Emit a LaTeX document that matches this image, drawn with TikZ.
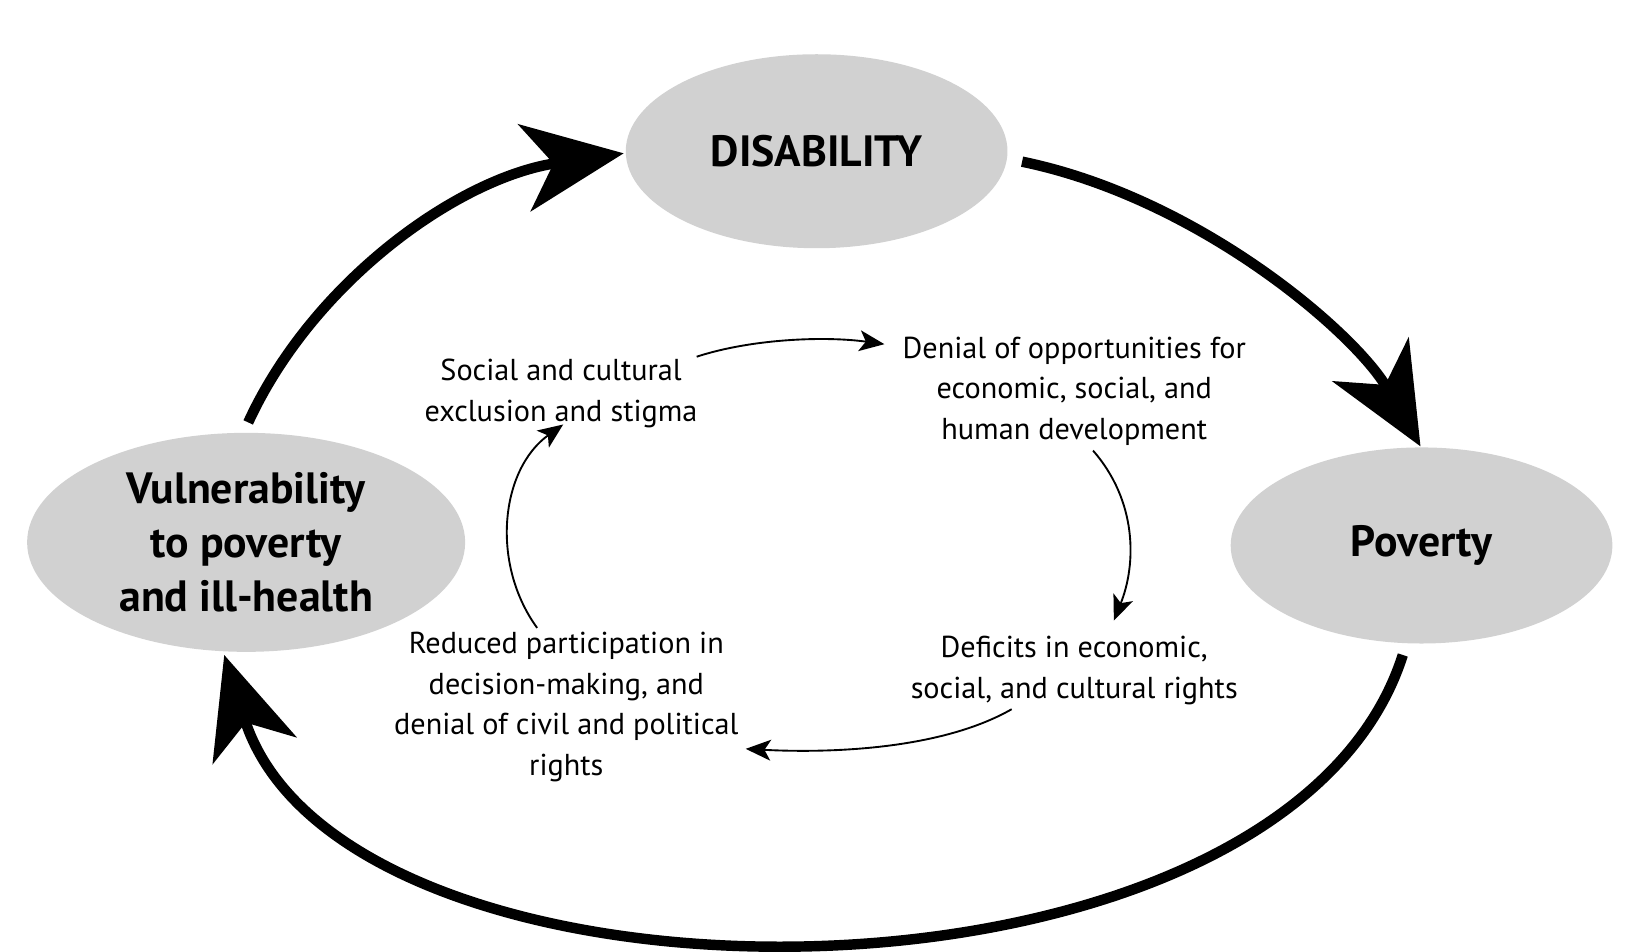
\documentclass[tikz,border=0pt]{standalone}
\usepackage{fontspec}
\setmainfont{PT Sans}
\usetikzlibrary{arrows.meta,shapes.geometric}
\begin{document}
\begin{tikzpicture}[x=0.5pt,y=-0.5pt,
  blob/.style={ellipse,fill=black!18,draw=none,inner sep=0pt,font=\fontsize{21}{26}\selectfont\bfseries,align=center},
  lbl/.style={align=center,font=\fontsize{14.5}{19.5}\selectfont},
  big/.style={line width=5pt,-{Stealth[length=48pt,width=42pt,inset=14pt]}},
  small/.style={line width=0.9pt,-{Stealth[length=12pt,width=10pt,inset=3pt]}}]
\useasboundingbox (0,0) rectangle (1560,912);
\node[blob,minimum width=183pt,minimum height=93pt] (dis) at (783,145) {DISABILITY};
\node[blob,minimum width=183pt,minimum height=94pt] (pov) at (1363,523) {Poverty};
\node[blob,minimum width=210pt,minimum height=105pt] (vul) at (236,520) {Vulnerability\\to poverty\\and ill-health};
\node[lbl] (soc) at (538,377) {Social and cultural\\exclusion and stigma};
\node[lbl] (den) at (1030,375) {Denial of opportunities for\\economic, social, and\\human development};
\node[lbl] (def) at (1030,643) {Deficits in economic,\\social, and cultural rights};
\node[lbl] (red) at (543,678) {Reduced participation in\\decision-making, and\\denial of civil and political\\rights};
\coordinate (a1) at (238,405); \coordinate (a2) at (598,147);
\coordinate (b1) at (980,155); \coordinate (b2) at (1362,428);
\coordinate (c1) at (1345,628); \coordinate (c2) at (215,628);
\draw[big] (a1) .. controls (300,270) and (440,170) .. (a2);
\draw[big] (b1) .. controls (1150,190) and (1300,320) .. (b2);
\draw[big] (c1) .. controls (1230,990) and (330,990) .. (c2);
\coordinate (s1) at (668,342); \coordinate (s2) at (848,330);
\draw[small] (s1) .. controls (720,325) and (790,322) .. (s2);
\coordinate (t1) at (1048,432); \coordinate (t2) at (1068,595);
\draw[small] (t1) .. controls (1090,480) and (1090,540) .. (t2);
\coordinate (u1) at (970,680); \coordinate (u2) at (715,718);
\draw[small] (u1) .. controls (900,720) and (790,722) .. (u2);
\coordinate (v1) at (515,602); \coordinate (v2) at (540,407);
\draw[small] (v1) .. controls (470,540) and (480,450) .. (v2);
\end{tikzpicture}
\end{document}
